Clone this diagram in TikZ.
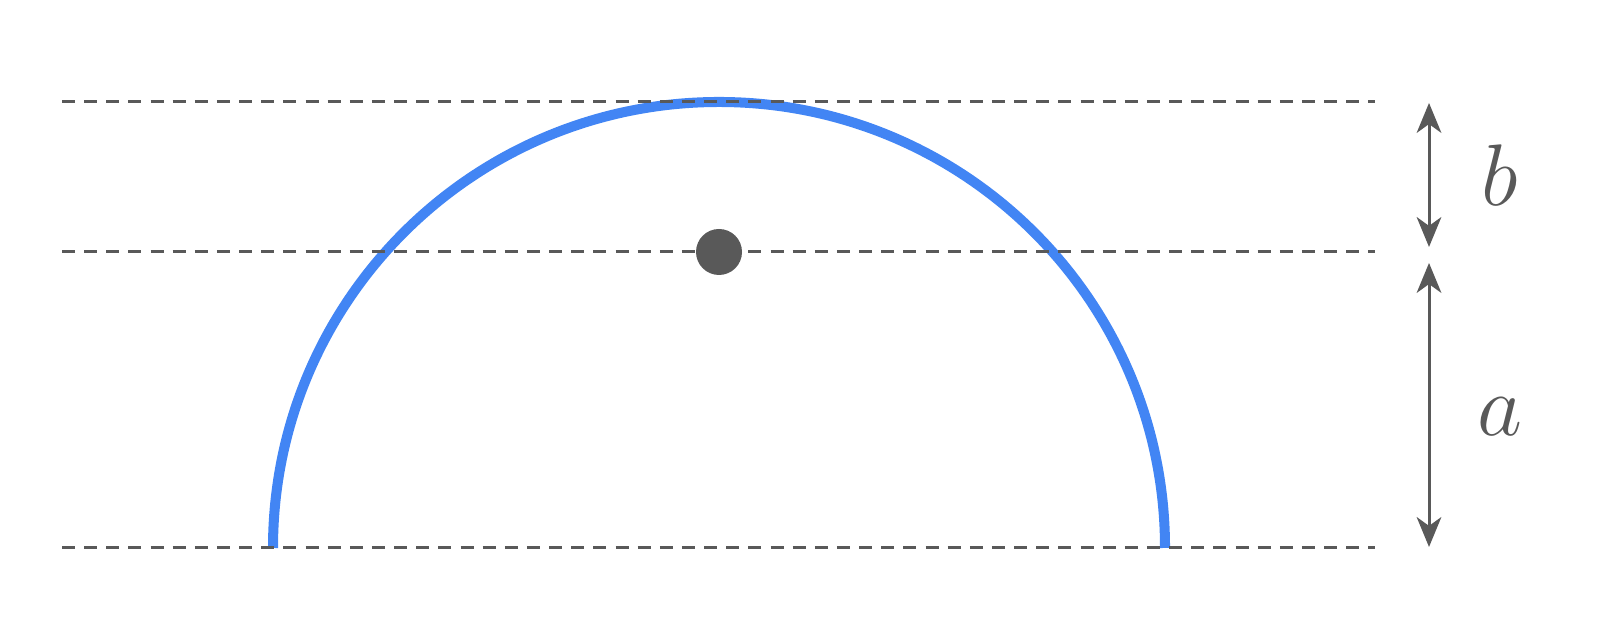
\documentclass[tikz,border=0pt]{standalone}
\usetikzlibrary{arrows.meta}
\definecolor{arcblue}{HTML}{4285F4}
\definecolor{linegray}{HTML}{595959}
\begin{document}
\begin{tikzpicture}[guide/.style={linegray,line width=0.85pt,dash pattern=on 3.7pt off 2.6pt},
  measure/.style={linegray,line width=0.85pt,{Stealth[length=8.5pt,width=7pt,inset=2.5pt]}-{Stealth[length=8.5pt,width=7pt,inset=2.5pt]}}]
\useasboundingbox (0,0) rectangle (16,6.22);
\draw[arcblue,line width=2.85pt] (2.73,0.74) arc[start angle=180,end angle=0,radius=4.46];
\draw[guide] (0.62,5.20) -- (13.75,5.20);
\draw[guide] (0.62,3.70) -- (13.75,3.70);
\draw[guide] (0.62,0.74) -- (13.75,0.74);
\node[circle,fill=linegray,inner sep=0pt,minimum size=0.46cm] (c) at (7.19,3.70) {};
\coordinate (btop) at (14.29,5.19);
\coordinate (bbot) at (14.29,3.75);
\coordinate (atop) at (14.29,3.59);
\coordinate (abot) at (14.29,0.75);
\draw[measure] (btop) -- (bbot);
\draw[measure] (atop) -- (abot);
\node[linegray,font=\fontsize{23}{28}\selectfont] (b) at (15.0,4.47) {$b$};
\node[linegray,font=\fontsize{23}{28}\selectfont] (a) at (15.0,2.05) {$a$};
\end{tikzpicture}
\end{document}
